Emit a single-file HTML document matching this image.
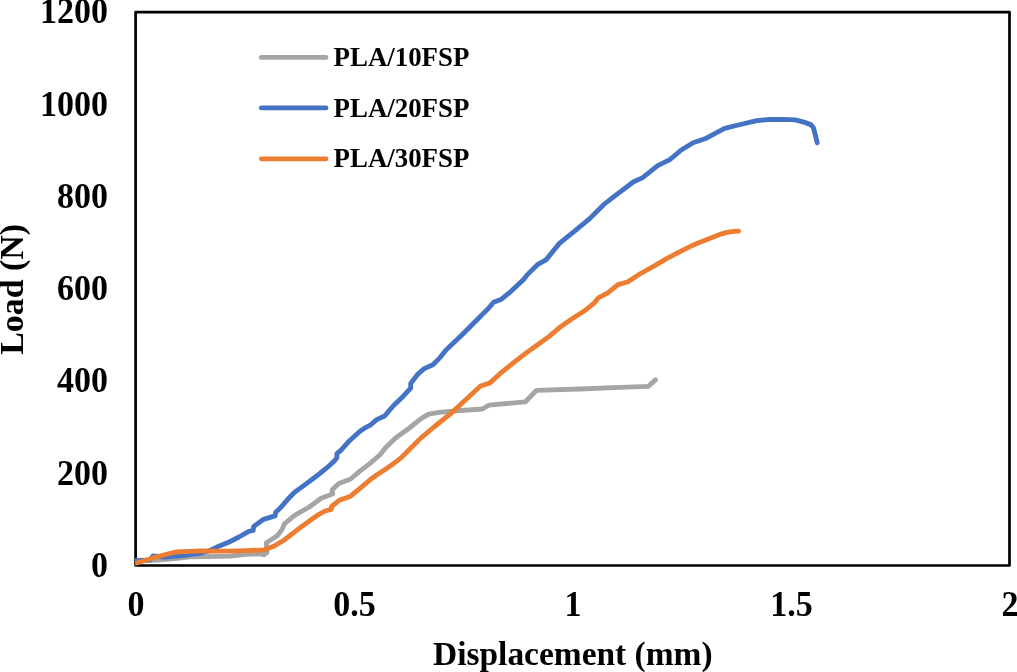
<!DOCTYPE html>
<html><head><meta charset="utf-8"><title>Load vs Displacement</title>
<style>
html,body{margin:0;padding:0;background:#fff;overflow:hidden}
svg{display:block}
text{font-family:"Liberation Serif","Times New Roman",serif;font-weight:bold;fill:#000}
.ax{font-size:34.0px}
.lg{font-size:26.85px}
.ln{fill:none;stroke-width:4.85;stroke-linecap:round;stroke-linejoin:round}
</style></head><body>
<svg width="1017" height="672" viewBox="0 0 1017 672">
<rect x="0" y="0" width="1017" height="672" fill="#fff"/>
<rect x="135.6" y="12.1" width="873.9" height="553.4" fill="none" stroke="#000" stroke-width="2.7" stroke-linejoin="round"/>
<defs><clipPath id="pa"><rect x="135.2" y="12" width="874.4" height="553.7"/></clipPath></defs>
<g clip-path="url(#pa)">
<polyline class="ln" stroke="#A5A5A5" points="133.0,560.4 156.8,560.0 174.6,558.6 190.0,556.8 206.7,556.6 230.0,556.1 245.8,554.4 258.4,553.9 263.9,554.7 267.1,552.3 266.3,542.8 277.3,535.7 282.1,529.4 284.4,523.9 294.6,515.4 309.3,507.0 321.1,498.2 329.0,495.2 332.7,494.0 332.2,489.8 338.8,483.4 350.6,479.0 360.5,470.6 370.0,463.3 379.8,455.0 385.3,448.0 395.5,438.0 408.8,428.5 421.0,418.6 428.8,414.1 439.0,412.4 461.0,410.5 482.3,409.0 489.0,405.2 525.5,401.8 536.5,390.3 580.0,389.0 620.0,387.4 648.4,386.3 655.5,379.8"/>
<polyline class="ln" stroke="#4472C4" points="133.0,560.8 150.0,560.2 153.0,556.0 165.0,557.0 177.6,556.2 190.0,554.6 200.0,553.3 209.5,550.6 219.3,545.9 229.2,542.0 239.0,537.0 248.8,531.3 253.2,530.4 253.6,526.6 263.6,519.3 273.4,516.4 275.2,516.0 275.7,512.3 279.8,508.5 284.7,502.8 289.7,497.2 294.6,492.3 303.4,485.9 311.3,480.0 319.2,474.0 327.0,467.7 332.9,462.3 336.8,458.2 336.9,453.7 340.8,450.3 348.4,441.8 360.0,431.2 364.9,427.9 370.8,424.8 376.7,419.6 384.6,416.0 393.6,405.5 402.3,397.2 410.7,388.1 410.7,383.4 417.9,374.1 424.2,368.6 432.9,364.7 440.0,357.6 446.3,349.7 462.1,334.7 476.3,320.5 488.9,307.9 493.6,302.3 501.5,299.2 511.0,291.3 523.6,279.5 527.9,274.1 537.4,264.7 546.0,259.9 559.4,243.4 575.2,230.7 589.4,218.9 603.6,204.7 617.8,193.7 633.6,181.8 642.3,177.9 657.7,165.7 669.5,159.8 681.3,150.0 693.1,142.7 704.9,138.8 724.6,128.3 738.3,125.0 756.7,120.6 769.5,119.5 784.2,119.4 795.1,119.9 803.9,122.1 810.8,124.6 813.3,127.5 815.2,134.4 817.2,142.8"/>
<polyline class="ln" stroke="#ED7D31" points="133.0,564.1 153.8,557.7 175.5,552.0 190.0,551.3 200.0,550.9 230.0,551.2 245.8,550.7 263.9,549.9 272.6,546.8 283.6,540.5 297.9,529.4 312.1,519.0 317.2,515.4 325.1,511.0 331.3,509.4 331.6,506.5 338.8,500.6 350.6,496.2 360.5,487.9 370.0,479.8 376.7,475.0 387.8,467.8 400.5,458.4 408.4,450.5 421.0,437.9 435.2,426.0 451.0,413.4 469.5,396.3 480.5,386.0 490.0,382.9 499.4,374.2 512.1,363.9 525.6,353.4 539.3,343.5 549.2,336.4 561.0,326.4 572.8,318.3 584.6,310.8 594.0,303.2 598.2,297.9 607.5,293.2 618.0,284.7 627.5,282.0 639.8,274.0 654.4,265.9 666.2,258.8 680.0,251.6 690.0,246.6 699.3,242.6 709.0,238.7 719.0,234.8 725.0,232.9 730.0,231.8 734.0,231.3 738.6,231.2"/>
</g>
<g class="ax">
<text transform="translate(107.9,576.7) scale(1,1.052)" text-anchor="end">0</text>
<text transform="translate(107.9,484.5) scale(1,1.052)" text-anchor="end">200</text>
<text transform="translate(107.9,392.2) scale(1,1.052)" text-anchor="end">400</text>
<text transform="translate(107.9,300.0) scale(1,1.052)" text-anchor="end">600</text>
<text transform="translate(107.9,207.8) scale(1,1.052)" text-anchor="end">800</text>
<text transform="translate(107.9,115.5) scale(1,1.052)" text-anchor="end">1000</text>
<text transform="translate(107.9,23.3) scale(1,1.052)" text-anchor="end">1200</text>
<text transform="translate(136.0,616.3) scale(1,1.052)" text-anchor="middle">0</text>
<text transform="translate(354.5,616.3) scale(1,1.052)" text-anchor="middle">0.5</text>
<text transform="translate(572.9,616.3) scale(1,1.052)" text-anchor="middle">1</text>
<text transform="translate(791.4,616.3) scale(1,1.052)" text-anchor="middle">1.5</text>
<text transform="translate(1009.9,616.3) scale(1,1.052)" text-anchor="middle">2</text>

<text transform="translate(572.8,664.5) scale(1,1.016)" text-anchor="middle" style="font-size:33.45px">Displacement (mm)</text>
<text transform="translate(23,289.3) rotate(-90)" text-anchor="middle" style="font-size:33.9px">Load (N)</text>
</g>
<g class="lg">
<line class="ln" stroke="#A5A5A5" x1="261.3" y1="57.4" x2="326" y2="57.4"/>
<text x="333.6" y="66">PLA/10FSP</text>
<line class="ln" stroke="#4472C4" x1="261.3" y1="107.9" x2="326" y2="107.9"/>
<text x="333.6" y="116.5">PLA/20FSP</text>
<line class="ln" stroke="#ED7D31" x1="261.3" y1="158.8" x2="326" y2="158.8"/>
<text x="333.6" y="167.3">PLA/30FSP</text>
</g>
</svg>
</body></html>
